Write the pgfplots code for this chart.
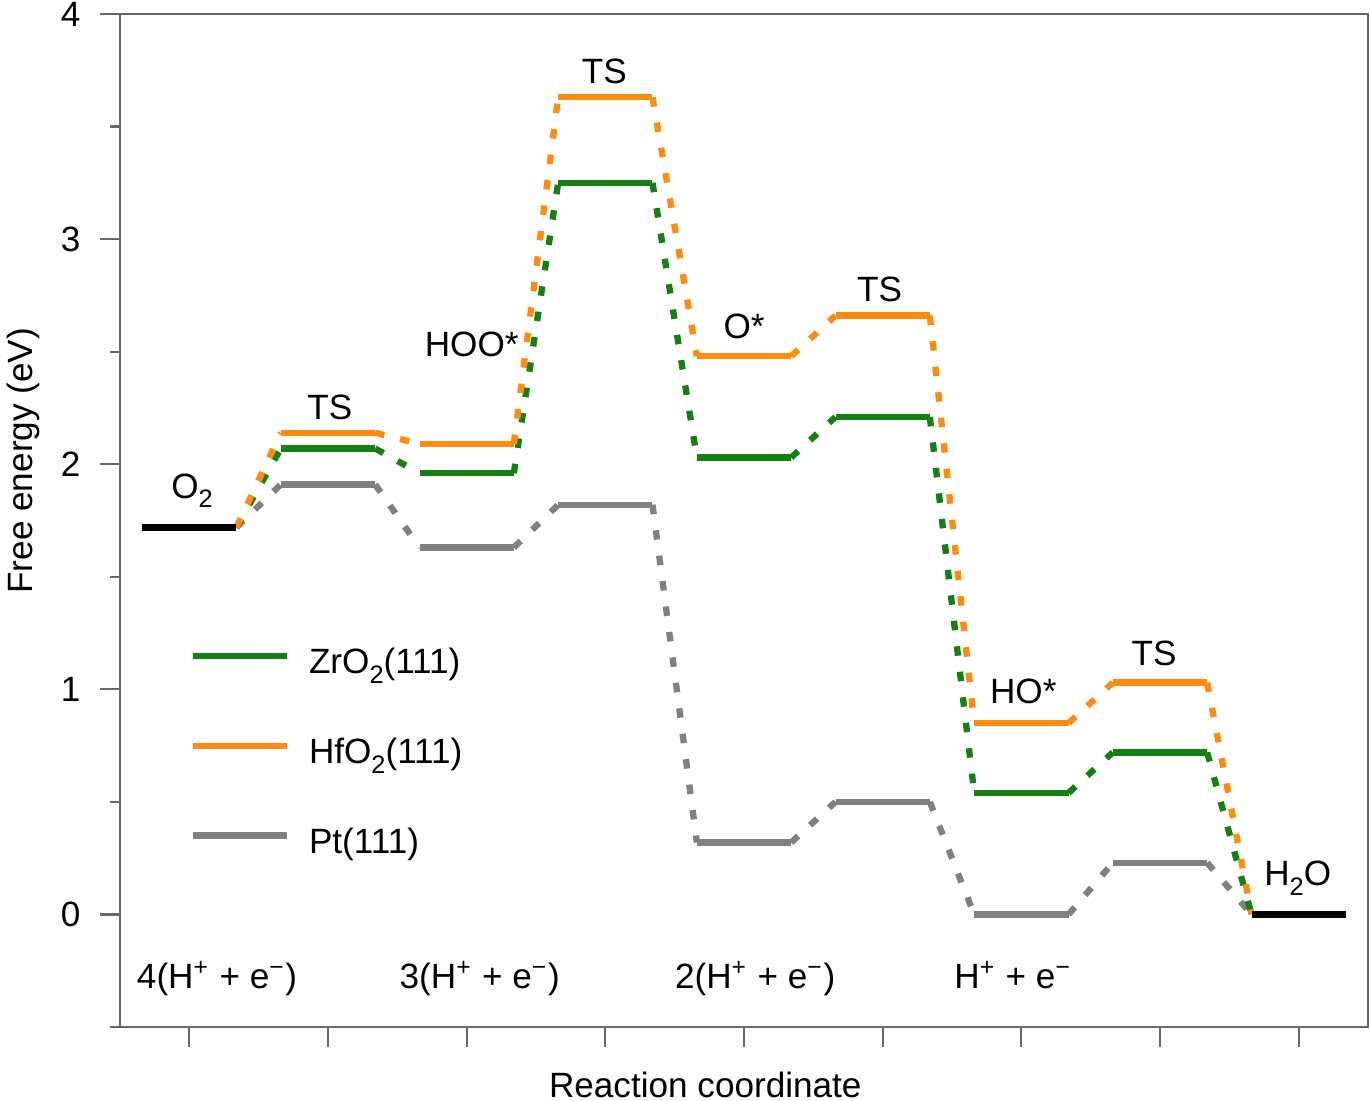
\documentclass[border=0pt]{standalone}
\usepackage{fontspec}
\setmainfont{Liberation Sans}
\usepackage{pgfplots}
\pgfplotsset{compat=1.18}

\definecolor{zr}{RGB}{20,128,20}
\definecolor{hf}{RGB}{255,140,15}
\definecolor{ptc}{RGB}{128,128,128}
\definecolor{axgray}{RGB}{105,105,105}

\newcommand{\sub}[1]{\raisebox{-2.8pt}{\fontsize{7.2}{8}\selectfont #1}}

\pgfplotsset{
  conn/.style={line width=1.8pt, dash pattern=on 2.7pt off 4.6pt, forget plot},
  lev/.style={line width=1.8pt, forget plot},
}

\begin{document}
\begin{tikzpicture}[font=\fontsize{10}{12}\selectfont]
\begin{axis}[
  scale only axis, width=12.48cm, height=10.13cm,
  xmin=-0.5, xmax=8.5, ymin=-0.5, ymax=4,
  xtick={0,1,2,3,4,5,6,7,8}, xticklabel=\empty,
  ytick={0,1,2,3,4}, minor ytick={-0.5,0.5,1.5,2.5,3.5},
  xtick pos=bottom, ytick pos=left,
  tick align=outside,
  major tick length=2mm, minor tick length=1mm,
  axis line style={axgray, line width=0.6pt},
  every tick/.style={axgray, line width=0.6pt},
  /pgf/number format/assume math mode=true,
  yticklabel style={inner sep=0pt, xshift=-0.19cm},
  unbounded coords=jump,
  xlabel={Reaction coordinate}, ylabel={Free energy (eV)},
  xlabel style={at={(axis description cs:0.469,-0.0691)}, anchor=base, inner sep=0pt},
  ylabel style={at={(axis description cs:-0.0705,0.559)}, anchor=base, inner sep=0pt},
  legend style={at={(axis cs:-0.0,1.178)}, anchor=north west, draw=none, fill=none,
    inner sep=0pt, outer sep=0pt, row sep=16.5pt, column sep=5.5pt,
    nodes={inner sep=0pt, text height=7pt, text depth=2pt, anchor=west}},
  legend image code/.code={\draw[#1, line width=1.8pt] (0cm,0.09cm) -- (0.94cm,0.09cm);},
]
\addlegendimage{zr}\addlegendentry{ZrO\sub{2}(111)}
\addlegendimage{hf}\addlegendentry{HfO\sub{2}(111)}
\addlegendimage{ptc}\addlegendentry{Pt(111)}

% Pt(111)
\addplot[ptc, conn] coordinates {
 (0.34,1.72) (0.66,1.91) (nan,nan)
 (1.34,1.91) (1.66,1.63) (nan,nan)
 (2.34,1.63) (2.66,1.82) (nan,nan)
 (3.34,1.82) (3.66,0.32) (nan,nan)
 (4.34,0.32) (4.66,0.50) (nan,nan)
 (5.34,0.50) (5.66,0.00) (nan,nan)
 (6.34,0.00) (6.66,0.23) (nan,nan)
 (7.34,0.23) (7.66,0.00)};
\addplot[ptc, lev] coordinates {
 (0.66,1.91) (1.34,1.91) (nan,nan)
 (1.66,1.63) (2.34,1.63) (nan,nan)
 (2.66,1.82) (3.34,1.82) (nan,nan)
 (3.66,0.32) (4.34,0.32) (nan,nan)
 (4.66,0.50) (5.34,0.50) (nan,nan)
 (5.66,0.00) (6.34,0.00) (nan,nan)
 (6.66,0.23) (7.34,0.23)};

% ZrO2(111)
\addplot[zr, conn] coordinates {
 (0.34,1.72) (0.66,2.07) (nan,nan)
 (1.34,2.07) (1.66,1.96) (nan,nan)
 (2.34,1.96) (2.66,3.25) (nan,nan)
 (3.34,3.25) (3.66,2.03) (nan,nan)
 (4.34,2.03) (4.66,2.21) (nan,nan)
 (5.34,2.21) (5.66,0.54) (nan,nan)
 (6.34,0.54) (6.66,0.72) (nan,nan)
 (7.34,0.72) (7.66,0.00)};
\addplot[zr, lev] coordinates {
 (0.66,2.07) (1.34,2.07) (nan,nan)
 (1.66,1.96) (2.34,1.96) (nan,nan)
 (2.66,3.25) (3.34,3.25) (nan,nan)
 (3.66,2.03) (4.34,2.03) (nan,nan)
 (4.66,2.21) (5.34,2.21) (nan,nan)
 (5.66,0.54) (6.34,0.54) (nan,nan)
 (6.66,0.72) (7.34,0.72)};

% HfO2(111)
\addplot[hf, conn] coordinates {
 (0.34,1.72) (0.66,2.14) (nan,nan)
 (1.34,2.14) (1.66,2.09) (nan,nan)
 (2.34,2.09) (2.66,3.63) (nan,nan)
 (3.34,3.63) (3.66,2.48) (nan,nan)
 (4.34,2.48) (4.66,2.66) (nan,nan)
 (5.34,2.66) (5.66,0.85) (nan,nan)
 (6.34,0.85) (6.66,1.03) (nan,nan)
 (7.34,1.03) (7.66,0.00)};
\addplot[hf, lev] coordinates {
 (0.66,2.14) (1.34,2.14) (nan,nan)
 (1.66,2.09) (2.34,2.09) (nan,nan)
 (2.66,3.63) (3.34,3.63) (nan,nan)
 (3.66,2.48) (4.34,2.48) (nan,nan)
 (4.66,2.66) (5.34,2.66) (nan,nan)
 (5.66,0.85) (6.34,0.85) (nan,nan)
 (6.66,1.03) (7.34,1.03)};

% O2 and H2O
\addplot[black, line width=2pt, forget plot] coordinates {
 (-0.34,1.72) (0.34,1.72) (nan,nan) (7.66,0) (8.34,0)};

\node[anchor=base] at (axis cs:0.02,1.85) {O\sub{2}};
\node[anchor=base] at (axis cs:1.014,2.20) {TS};
\node[anchor=base] at (axis cs:2.036,2.48) {HOO*};
\node[anchor=base] at (axis cs:2.993,3.693) {TS};
\node[anchor=base] at (axis cs:4.0,2.56) {O*};
\node[anchor=base] at (axis cs:4.978,2.724) {TS};
\node[anchor=base] at (axis cs:6.014,0.938) {HO*};
\node[anchor=base] at (axis cs:6.957,1.107) {TS};
\node[anchor=base] at (axis cs:7.993,0.129) {H\sub{2}O};
\node[anchor=base] at (axis cs:0.20,-0.329) {4(H\textsuperscript{+} + e\textsuperscript{−})};
\node[anchor=base] at (axis cs:2.094,-0.329) {3(H\textsuperscript{+} + e\textsuperscript{−})};
\node[anchor=base] at (axis cs:4.08,-0.329) {2(H\textsuperscript{+} + e\textsuperscript{−})};
\node[anchor=base] at (axis cs:5.94,-0.329) {H\textsuperscript{+} + e\textsuperscript{−}};
\end{axis}
\path ([xshift=-1.2cm,yshift=-0.73cm]current axis.south west) rectangle ([xshift=0.02cm,yshift=0.14cm]current axis.north east);
\end{tikzpicture}
\end{document}
